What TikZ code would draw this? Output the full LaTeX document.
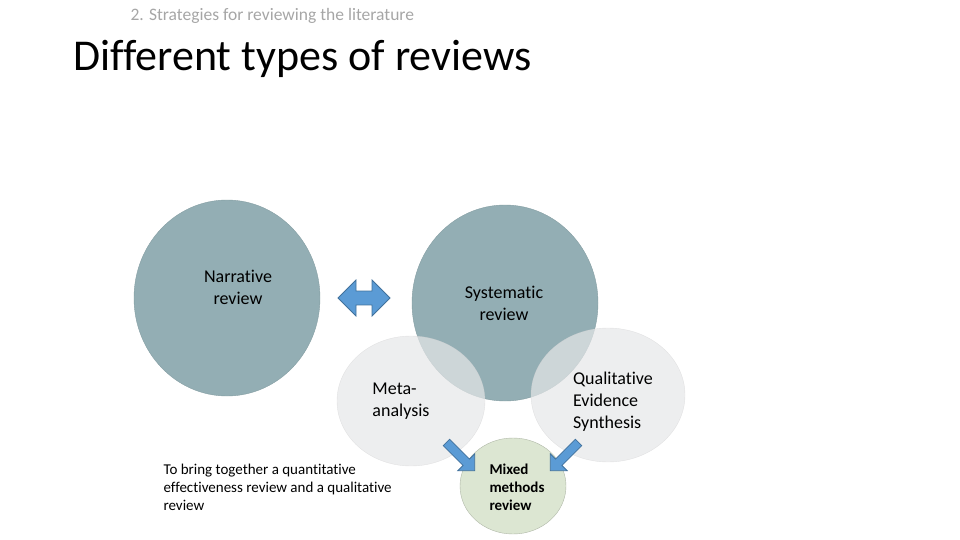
\documentclass[tikz,border=0pt]{standalone}
\usepackage{fontspec}
\setmainfont[Ligatures=NoCommon]{Carlito}
\usetikzlibrary{shapes.arrows}
\definecolor{dk}{HTML}{93AEB4}
\definecolor{lt}{HTML}{E6E7E8}
\definecolor{gr}{HTML}{DCE6D2}
\definecolor{bl}{HTML}{5B9BD5}
\definecolor{bld}{HTML}{41719C}
\tikzset{
 ltc/.style={fill=lt,fill opacity=0.7,draw=lt!90!black,draw opacity=0.5},
 lbl/.style={align=center,font=\fontsize{18}{22}\selectfont,text=black},
 barrow/.style={single arrow,fill=bl,draw=bld,line width=0.8pt,minimum height=40pt,minimum width=24pt,single arrow head extend=4pt,inner sep=2pt,anchor=center}
}
\begin{document}
\begin{tikzpicture}[x=1pt,y=-1pt]
\useasboundingbox (0,0) rectangle (960,540);
\node[anchor=west,text=gray!70,font=\fontsize{17.5}{20}\selectfont] (sub) at (127,16) {2. Strategies for reviewing the literature};
\node[anchor=west,font=\fontsize{44}{46}\selectfont,inner sep=0] (title) at (73,59) {Different types of reviews};
\fill[dk,draw=dk!90!black] (227,298) ellipse [x radius=93,y radius=98];
\fill[dk,draw=dk!90!black] (505,303) ellipse [x radius=93,y radius=98];
\path[ltc] (411,401) ellipse [x radius=74,y radius=65];
\path[ltc] (608,395) ellipse [x radius=77,y radius=67];
\path[fill=gr,draw=gr!80!black] (513,486) ellipse [x radius=53,y radius=48];
\node[lbl] (nar) at (238,287) {Narrative\\review};
\node[lbl] (sys) at (504,303) {Systematic\\review};
\node[lbl,align=left] (meta) at (401,401) {Meta-\\analysis};
\node[lbl,align=left] (qes) at (613,402) {Qualitative\\Evidence\\Synthesis};
\node[align=left,font=\bfseries\fontsize{15}{18}\selectfont] (mix) at (517,487) {Mixed\\methods\\review};
\node[align=left,anchor=west,font=\fontsize{15}{18}\selectfont] (note) at (160,487) {To bring together a quantitative\\effectiveness review and a qualitative\\review};
\node[double arrow,fill=bl,draw=bld,line width=0.8pt,minimum height=52pt,minimum width=36pt,double arrow head extend=7pt,double arrow head indent=0pt,inner sep=4pt] (dbl) at (364,298) {};
\node[barrow,rotate=-45] (a1) at (459,455) {};
\node[barrow,rotate=-135] (a2) at (566,455) {};
\end{tikzpicture}
\end{document}
